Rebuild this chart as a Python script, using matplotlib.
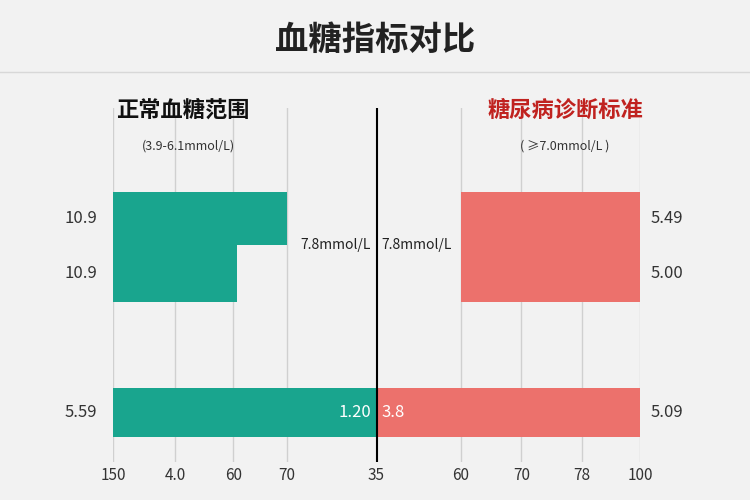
import matplotlib
matplotlib.use("Agg")
import matplotlib.pyplot as plt

plt.rcParams['font.family'] = ['Noto Sans CJK SC', 'DejaVu Sans']

# bars: (start, end) on a 0..10 scale, row centers
left_rows = [6.88, 5.32, 1.4]
left_start = [0.0, 0.0, 0.0]
left_end = [3.3, 2.35, 5.0]
left_heights = [1.5, 1.61, 1.38]
left_labels = ["10.9", "10.9", "5.59"]

right_rows = [6.07, 1.4]
right_start = [6.6, 5.0]
right_end = [10.0, 10.0]
right_heights = [3.11, 1.38]
right_labels = [("5.49", 6.88), ("5.00", 5.32), ("5.09", 1.4)]

xticks = [0, 1.18, 2.28, 3.3, 5.0, 6.6, 7.75, 8.9, 10]
xticklabels = ["150", "4.0", "60", "70", "35", "60", "70", "78", "100"]
grid_x = [0, 1.18, 2.28, 3.3, 6.6, 7.75, 8.9, 10]

TEAL = "#19a58e"
SALMON = "#ec716c"

fig = plt.figure(figsize=(7.5, 5), dpi=100)
fig.patch.set_facecolor("#f2f2f2")
ax = fig.add_axes([113 / 750, 38 / 500, 527 / 750, 354 / 500])
ax.set_facecolor("#f2f2f2")
ax.set_xlim(0, 10)
ax.set_ylim(0, 10)
for g in grid_x:
    ax.axvline(g, color="#d0d0d0", lw=1, zorder=0)

for y, s, e, h in zip(left_rows, left_start, left_end, left_heights):
    ax.barh(y, e - s, left=s, height=h, color=TEAL, zorder=2)
for y, s, e, h in zip(right_rows, right_start, right_end, right_heights):
    ax.barh(y, e - s, left=s, height=h, color=SALMON, zorder=2)
ax.axvline(5.0, ymin=0, ymax=1, color="black", lw=1.5, zorder=3)

for y, t in zip(left_rows, left_labels):
    ax.text(-0.3, y, t, ha="right", va="center", fontsize=12, color="#333")
for t, y in right_labels:
    ax.text(10.2, y, t, ha="left", va="center", fontsize=12, color="#333")

ax.text(4.9, 6.13, "7.8mmol/L", ha="right", va="center", fontsize=10, color="#222")
ax.text(5.1, 6.13, "7.8mmol/L", ha="left", va="center", fontsize=10, color="#222")
ax.text(4.9, 1.4, "1.20", ha="right", va="center", fontsize=12, color="white")
ax.text(5.1, 1.4, "3.8", ha="left", va="center", fontsize=12, color="white")

ax.set_xticks(xticks)
ax.set_xticklabels(xticklabels, fontsize=11, color="#333")
ax.set_yticks([])
for s in ax.spines.values():
    s.set_visible(False)
ax.tick_params(axis="x", length=0)

fig.text(0.5, 1 - 40 / 500, "血糖指标对比", ha="center", va="center", fontsize=24,
         fontweight="bold", color="#222")
fig.add_artist(plt.Line2D([0, 1], [1 - 72 / 500] * 2, color="#d8d8d8", lw=1))
fig.text(183 / 750, 1 - 110 / 500, "正常血糖范围", ha="center", va="center", fontsize=16,
         fontweight="bold", color="#111")
fig.text(188 / 750, 1 - 146 / 500, "(3.9-6.1mmol/L)", ha="center", va="center", fontsize=9, color="#333")
fig.text(565 / 750, 1 - 110 / 500, "糖尿病诊断标准", ha="center", va="center", fontsize=16,
         fontweight="bold", color="#c0221f")
fig.text(565 / 750, 1 - 146 / 500, "( ≥7.0mmol/L )", ha="center", va="center", fontsize=9, color="#333")

fig.savefig("out.png", dpi=100)
